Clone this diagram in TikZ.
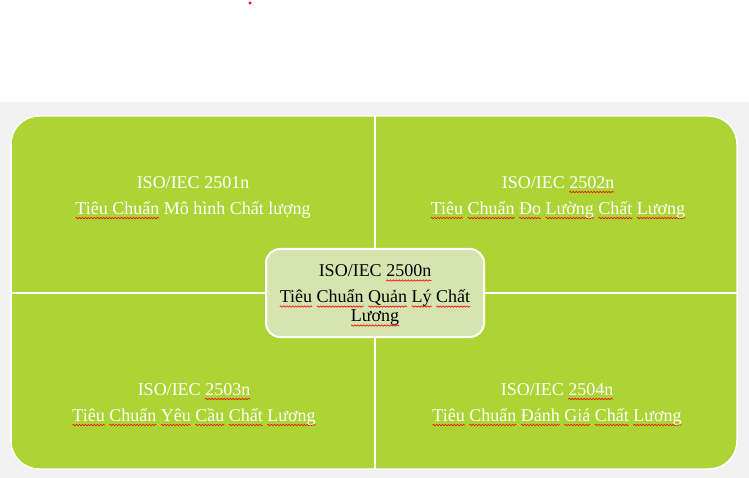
\documentclass[tikz,border=0pt]{standalone}
\usepackage{fontspec}
\setmainfont{Liberation Serif}
\usetikzlibrary{decorations.pathmorphing}
\definecolor{leaf}{HTML}{ADD435}
\definecolor{pale}{HTML}{D6E4B0}
\definecolor{panel}{HTML}{F2F2F2}
\newsavebox{\wordbox}
\newcommand{\squig}[1]{\sbox{\wordbox}{#1}\tikz[overlay,baseline=0pt]\draw[red,sharp corners,line width=0.6pt,decorate,decoration={snake,amplitude=0.7pt,segment length=3pt}] (0pt,-4pt) -- (\the\wd\wordbox,-4pt);\usebox{\wordbox}}

\begin{document}
\begin{tikzpicture}[x=1pt,y=-1pt,
		quad/.style={text=white,align=center,font=\fontsize{18}{26}\selectfont},
		hub/.style={fill=pale,draw=white,line width=2pt,rounded corners=14pt,minimum width=218pt,minimum height=88pt,align=center,font=\fontsize{18}{19}\selectfont}]
		\useasboundingbox (0,0) rectangle (749,478);

		\fill[panel] (0,102) rectangle (749,478);
		\fill[red] (250,3) circle (1.6pt);

		\draw[white, line width=1.5pt, fill=leaf, rounded corners=28pt] (11,116) rectangle (737,469);
		\draw[white, line width=2pt] (375,116) to (375,469);
		\draw[white, line width=2pt] (11,293) to (737,293);

		\node[quad] (std1) at (193,197) {ISO/IEC 2501n\\ \squig{Tiêu Chuẩn} Mô hình Chất lượng};
		\node[quad] (std2) at (558,197) {ISO/IEC \squig{2502n}\\ \squig{Tiêu} \squig{Chuẩn} \squig{Đo} \squig{Lường} \squig{Chất} \squig{Lương}};
		\node[quad] (std3) at (194,404) {ISO/IEC \squig{2503n}\\ \squig{Tiêu} \squig{Chuẩn} \squig{Yêu} \squig{Cầu} \squig{Chất} \squig{Lương}};
		\node[quad] (std4) at (557,404) {ISO/IEC \squig{2504n}\\ \squig{Tiêu} \squig{Chuẩn} \squig{Đánh} \squig{Giá} \squig{Chất} \squig{Lương}};

		\node[hub] (core) at (375,293) {};
		\node[align=center,font=\fontsize{18}{19}\selectfont] (coretext) at (375,295) {ISO/IEC \squig{2500n}\\[7pt] \squig{Tiêu} \squig{Chuẩn} \squig{Quản} \squig{Lý} \squig{Chất}\\ \squig{Lương}};
	\end{tikzpicture}
\end{document}
